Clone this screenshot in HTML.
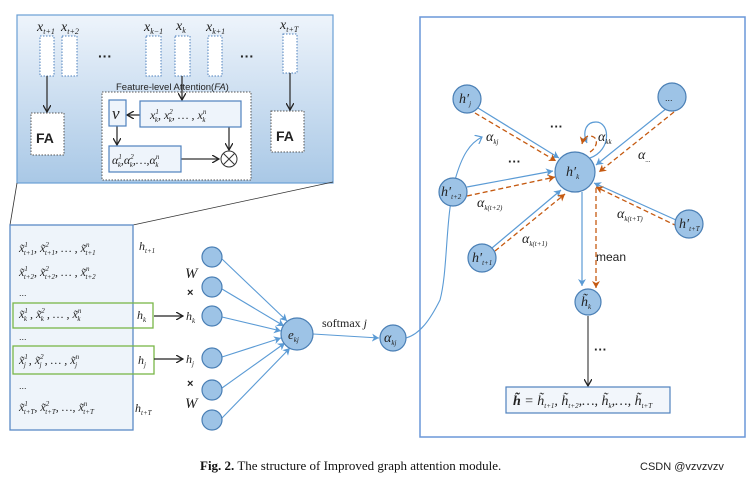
<!DOCTYPE html>
<html><head><meta charset="utf-8"><style>
html,body{margin:0;padding:0;background:#fff;width:754px;height:480px;overflow:hidden}
svg{display:block}
.m{font-family:"Liberation Serif",serif;font-style:italic;fill:#222}
.s{font-family:"Liberation Sans",sans-serif;fill:#222}
</style></head><body>
<svg width="754" height="480" viewBox="0 0 754 480" xmlns="http://www.w3.org/2000/svg">
<defs>
<linearGradient id="g" x1="0" y1="0" x2="0" y2="1">
<stop offset="0" stop-color="#eef4fb"/><stop offset="1" stop-color="#a9c8e6"/>
</linearGradient>
<marker id="ab" markerWidth="8" markerHeight="8" refX="7" refY="4" orient="auto" markerUnits="userSpaceOnUse"><path d="M0,0 L7,4 L0,8" fill="none" stroke="#222" stroke-width="1.3"/></marker>
<marker id="abl" markerWidth="8" markerHeight="8" refX="7" refY="4" orient="auto" markerUnits="userSpaceOnUse"><path d="M0,0 L7,4 L0,8 L2,4z" fill="#5b9bd5"/></marker>
<marker id="ao" markerWidth="8" markerHeight="8" refX="7" refY="4" orient="auto" markerUnits="userSpaceOnUse"><path d="M0,0 L7,4 L0,8 L2,4z" fill="#c55a11"/></marker>
<marker id="aopen" markerWidth="10" markerHeight="10" refX="6" refY="5" orient="auto" markerUnits="userSpaceOnUse"><path d="M0,0 L6,5 L0,10" fill="none" stroke="#5b9bd5" stroke-width="1.2"/></marker>
</defs>

<!-- top-left FA box -->
<rect x="17" y="15" width="316" height="168" fill="url(#g)" stroke="#6a9fd4" stroke-width="1.2"/>
<g fill="#fff" stroke="#4f81bd" stroke-dasharray="1.5,1.5" stroke-width="1">
<rect x="40" y="36" width="14" height="40"/><rect x="62" y="36" width="15" height="40"/>
<rect x="146" y="36" width="15" height="40"/><rect x="175" y="36" width="15" height="40"/>
<rect x="208" y="36" width="14" height="40"/><rect x="283" y="34" width="14" height="39"/>
<rect x="31" y="113" width="33" height="42" stroke="#555"/><rect x="271" y="111" width="33" height="41" stroke="#555"/>
<rect x="102" y="92" width="149" height="88" stroke="#555"/>
</g>
<g class="m" font-size="14">
<text x="37" y="31">x<tspan font-size="8" dy="3">t+1</tspan></text>
<text x="61" y="31">x<tspan font-size="8" dy="3">t+2</tspan></text>
<text x="144" y="31">x<tspan font-size="8" dy="3">k−1</tspan></text>
<text x="176" y="30">x<tspan font-size="8" dy="3">k</tspan></text>
<text x="206" y="31">x<tspan font-size="8" dy="3">k+1</tspan></text>
<text x="280" y="29">x<tspan font-size="8" dy="3">t+T</tspan></text>
</g>
<text x="98" y="61" class="s" font-size="14" font-weight="bold">···</text>
<text x="240" y="61" class="s" font-size="14" font-weight="bold">···</text>
<text x="36" y="143" class="s" font-size="14" font-weight="bold">FA</text>
<text x="276" y="141" class="s" font-size="14" font-weight="bold">FA</text>
<text x="116" y="90" class="s" font-size="9.5">Feature-level  Attention(<tspan font-style="italic">FA</tspan>)</text>
<g stroke="#333" stroke-width="1.3" fill="none">
<line x1="47" y1="76" x2="47" y2="112" marker-end="url(#ab)"/>
<line x1="290" y1="73" x2="290" y2="110" marker-end="url(#ab)"/>
<line x1="182" y1="76" x2="182" y2="100" marker-end="url(#ab)"/>
<line x1="140" y1="115" x2="127" y2="115" marker-end="url(#ab)"/>
<line x1="117" y1="126" x2="117" y2="145" marker-end="url(#ab)"/>
<line x1="229" y1="127" x2="229" y2="150" marker-end="url(#ab)"/>
<line x1="181" y1="159" x2="219" y2="159" marker-end="url(#ab)"/>
</g>
<rect x="140" y="101" width="101" height="26" fill="#eef4fb" stroke="#4f81bd" stroke-width="1.2"/>
<rect x="109" y="100" width="17" height="26" fill="#eef4fb" stroke="#4f81bd" stroke-width="1.2"/>
<rect x="109" y="146" width="72" height="26" fill="#eef4fb" stroke="#4f81bd" stroke-width="1.2"/>
<text x="112" y="119" class="m" font-size="17">v</text>
<text x="150" y="119" class="m" font-size="12">x<tspan font-size="7" dy="-5">1</tspan><tspan font-size="7" dx="-4" dy="8">k</tspan><tspan dy="-3">, x</tspan><tspan font-size="7" dy="-5">2</tspan><tspan font-size="7" dx="-4" dy="8">k</tspan><tspan dy="-3">, … , x</tspan><tspan font-size="7" dy="-5">n</tspan><tspan font-size="7" dx="-4" dy="8">k</tspan></text>
<text x="112" y="164" class="m" font-size="12">α<tspan font-size="7" dy="-5">1</tspan><tspan font-size="7" dx="-4" dy="8">k</tspan><tspan dy="-3">,α</tspan><tspan font-size="7" dy="-5">2</tspan><tspan font-size="7" dx="-4" dy="8">k</tspan><tspan dy="-3">,…,α</tspan><tspan font-size="7" dy="-5">n</tspan><tspan font-size="7" dx="-4" dy="8">k</tspan></text>
<circle cx="229" cy="159" r="8" fill="#fff" stroke="#333"/>
<path d="M223.5,153.5 L234.5,164.5 M234.5,153.5 L223.5,164.5" stroke="#333"/>

<!-- zoom lines -->
<line x1="17" y1="183" x2="10" y2="225" stroke="#333" stroke-width="0.8"/>
<line x1="333" y1="182" x2="133" y2="225" stroke="#333" stroke-width="0.8"/>

<!-- table -->
<rect x="10" y="225" width="123" height="205" fill="#eef4fa" stroke="#5a8ac6" stroke-width="1.3"/>
<rect x="13" y="303" width="140" height="25" fill="none" stroke="#7ab648" stroke-width="1.3"/>
<rect x="13" y="346" width="141" height="28" fill="none" stroke="#7ab648" stroke-width="1.3"/>
<g class="m" font-size="12">
<text x="19" y="252">x̃<tspan font-size="7" dy="-5">1</tspan><tspan font-size="7" dx="-4" dy="8">t+1</tspan><tspan dy="-3">, x̃</tspan><tspan font-size="7" dy="-5">2</tspan><tspan font-size="7" dx="-4" dy="8">t+1</tspan><tspan dy="-3">, … , x̃</tspan><tspan font-size="7" dy="-5">n</tspan><tspan font-size="7" dx="-4" dy="8">t+1</tspan></text>
<text x="19" y="276">x̃<tspan font-size="7" dy="-5">1</tspan><tspan font-size="7" dx="-4" dy="8">t+2</tspan><tspan dy="-3">, x̃</tspan><tspan font-size="7" dy="-5">2</tspan><tspan font-size="7" dx="-4" dy="8">t+2</tspan><tspan dy="-3">, … , x̃</tspan><tspan font-size="7" dy="-5">n</tspan><tspan font-size="7" dx="-4" dy="8">t+2</tspan></text>
<text x="19" y="318">x̃<tspan font-size="7" dy="-5">1</tspan><tspan font-size="7" dx="-4" dy="8">k</tspan><tspan dy="-3">  , x̃</tspan><tspan font-size="7" dy="-5">2</tspan><tspan font-size="7" dx="-4" dy="8">k</tspan><tspan dy="-3">    , … , x̃</tspan><tspan font-size="7" dy="-5">n</tspan><tspan font-size="7" dx="-4" dy="8">k</tspan></text>
<text x="19" y="364">x̃<tspan font-size="7" dy="-5">1</tspan><tspan font-size="7" dx="-4" dy="8">j</tspan><tspan dy="-3">    , x̃</tspan><tspan font-size="7" dy="-5">2</tspan><tspan font-size="7" dx="-4" dy="8">j</tspan><tspan dy="-3">  , … , x̃</tspan><tspan font-size="7" dy="-5">n</tspan><tspan font-size="7" dx="-4" dy="8">j</tspan></text>
<text x="19" y="411">x̃<tspan font-size="7" dy="-5">1</tspan><tspan font-size="7" dx="-4" dy="8">t+T</tspan><tspan dy="-3">, x̃</tspan><tspan font-size="7" dy="-5">2</tspan><tspan font-size="7" dx="-4" dy="8">t+T</tspan><tspan dy="-3">, …, x̃</tspan><tspan font-size="7" dy="-5">n</tspan><tspan font-size="7" dx="-4" dy="8">t+T</tspan></text>
<text x="139" y="250">h<tspan font-size="7" dy="3">t+1</tspan></text>
<text x="137" y="319">h<tspan font-size="7" dy="3">k</tspan></text>
<text x="138" y="364">h<tspan font-size="7" dy="3">j</tspan></text>
<text x="135" y="412">h<tspan font-size="7" dy="3">t+T</tspan></text>
<text x="186" y="320">h<tspan font-size="7" dy="3">k</tspan></text>
<text x="186" y="363">h<tspan font-size="7" dy="3">j</tspan></text>
</g>
<g class="s" font-size="9" fill="#555"><text x="19" y="296">...</text><text x="19" y="340">...</text><text x="19" y="389">...</text></g>
<line x1="154" y1="316" x2="183" y2="316" stroke="#222" stroke-width="1.3" marker-end="url(#ab)"/>
<line x1="154" y1="359" x2="183" y2="359" stroke="#222" stroke-width="1.3" marker-end="url(#ab)"/>
<text x="185" y="278" class="m" font-size="15" fill="#444">W</text>
<text x="187" y="296" class="s" font-size="11" font-weight="bold">×</text>
<text x="187" y="387" class="s" font-size="11" font-weight="bold">×</text>
<text x="185" y="408" class="m" font-size="15" fill="#444">W</text>

<!-- right box -->
<rect x="420" y="17" width="325" height="420" fill="#fff" stroke="#6a97d8" stroke-width="1.5"/>

<!-- NN -->
<g stroke="#5b9bd5" stroke-width="1.1" fill="none">
<line x1="222" y1="259" x2="287" y2="321" marker-end="url(#abl)"/>
<line x1="222" y1="289" x2="284" y2="326" marker-end="url(#abl)"/>
<line x1="222" y1="317" x2="281" y2="331" marker-end="url(#abl)"/>
<line x1="222" y1="357" x2="281" y2="338" marker-end="url(#abl)"/>
<line x1="222" y1="388" x2="285" y2="343" marker-end="url(#abl)"/>
<line x1="222" y1="418" x2="290" y2="348" marker-end="url(#abl)"/>
<line x1="313" y1="334" x2="379" y2="338" marker-end="url(#abl)"/>
<path d="M406,338 C420,334 430,320 440,300 C448,270 445,220 455,180 C462,155 470,143 482,137" marker-end="url(#aopen)"/>
</g>
<g fill="#9dc3e6" stroke="#4a7fb5" stroke-width="1.2">
<circle cx="212" cy="257" r="10"/><circle cx="212" cy="287" r="10"/><circle cx="212" cy="316" r="10"/>
<circle cx="212" cy="358" r="10"/><circle cx="212" cy="390" r="10"/><circle cx="212" cy="420" r="10"/>
<circle cx="297" cy="334" r="16"/><circle cx="393" cy="338" r="13"/>
</g>
<text x="288" y="339" class="m" font-size="13">e<tspan font-size="7" dy="3">kj</tspan></text>
<text x="384" y="342" class="m" font-size="14">α<tspan font-size="7" dy="3">kj</tspan></text>
<text x="322" y="327" font-family="Liberation Serif,serif" font-size="12" fill="#222">softmax <tspan font-style="italic">j</tspan></text>

<g stroke="#5b9bd5" stroke-width="1.2" fill="none">
<line x1="478" y1="108" x2="559" y2="158" marker-end="url(#abl)"/>
<line x1="667" y1="108" x2="596" y2="165" marker-end="url(#abl)"/>
<line x1="467" y1="187" x2="553" y2="171" marker-end="url(#abl)"/>
<line x1="492" y1="248" x2="561" y2="190" marker-end="url(#abl)"/>
<line x1="676" y1="220" x2="594" y2="183" marker-end="url(#abl)"/>
<line x1="582" y1="192" x2="582" y2="286" marker-end="url(#abl)"/>
<path d="M590,158 C612,150 610,122 596,122 C586,122 582,132 587,143" marker-end="url(#abl)"/>
<line x1="588" y1="316" x2="588" y2="386" stroke="#444" marker-end="url(#ab)"/>
</g>
<g stroke="#c55a11" stroke-width="1.3" stroke-dasharray="5,3" fill="none">
<line x1="475" y1="113" x2="556" y2="161" marker-end="url(#ao)"/>
<line x1="674" y1="112" x2="599" y2="172" marker-end="url(#ao)"/>
<line x1="467" y1="196" x2="555" y2="177" marker-end="url(#ao)"/>
<line x1="495" y1="251" x2="565" y2="194" marker-end="url(#ao)"/>
<line x1="677" y1="226" x2="596" y2="187" marker-end="url(#ao)"/>
<line x1="596" y1="188" x2="596" y2="288" marker-end="url(#ao)"/>
<path d="M590,152 C597,148 600,137 590,136 C585,136 583,140 582,144" marker-end="url(#ao)"/>
</g>
<g fill="#9dc3e6" stroke="#4a7fb5" stroke-width="1.2">
<circle cx="467" cy="99" r="14"/><circle cx="672" cy="97" r="14"/>
<circle cx="575" cy="172" r="20"/><circle cx="453" cy="192" r="14"/>
<circle cx="482" cy="258" r="14"/><circle cx="689" cy="224" r="14"/>
<circle cx="588" cy="302" r="13"/>
</g>
<g class="m" font-size="14">
<text x="459" y="103">h′<tspan font-size="7" dy="3">j</tspan></text>
<text x="566" y="176">h′<tspan font-size="7" dy="3">k</tspan></text>
<text x="441" y="196">h′<tspan font-size="7" dy="3">t+2</tspan></text>
<text x="472" y="262">h′<tspan font-size="7" dy="3">t+1</tspan></text>
<text x="679" y="228">h′<tspan font-size="7" dy="3">t+T</tspan></text>
<text x="581" y="306">h̃<tspan font-size="7" dy="3">k</tspan></text>
<text x="486" y="141">α<tspan font-size="7" dy="3">kj</tspan></text>
<text x="598" y="141">α<tspan font-size="7" dy="3">kk</tspan></text>
<text x="638" y="159">α<tspan font-size="7" dy="3">...</tspan></text>
<text x="477" y="207">α<tspan font-size="7" dy="3">k(t+2)</tspan></text>
<text x="522" y="243">α<tspan font-size="7" dy="3">k(t+1)</tspan></text>
<text x="617" y="218">α<tspan font-size="7" dy="3">k(t+T)</tspan></text>
</g>
<text x="665" y="101" class="s" font-size="9">...</text>
<g class="s" font-size="13" font-weight="bold"><text x="550" y="131">···</text><text x="508" y="166">···</text><text x="594" y="354">···</text></g>
<text x="596" y="261" class="s" font-size="12">mean</text>
<rect x="506" y="387" width="164" height="26" fill="#f2f6fb" stroke="#4f81bd" stroke-width="1.2"/>
<text x="513" y="405" class="m" font-size="14"><tspan font-weight="bold">h̃</tspan> = h̃<tspan font-size="7" dy="3">t+1</tspan><tspan dy="-3">, h̃</tspan><tspan font-size="7" dy="3">t+2</tspan><tspan dy="-3">,…, h̃</tspan><tspan font-size="7" dy="3">k</tspan><tspan dy="-3">,…, h̃</tspan><tspan font-size="7" dy="3">t+T</tspan></text>

<!-- caption -->
<text x="200" y="470" font-family="Liberation Serif,serif" font-size="13" fill="#111"><tspan font-weight="bold">Fig. 2.</tspan> The structure of Improved graph attention module.</text>
<text x="640" y="470" class="s" font-size="11" fill="#999">CSDN @vzvzvzv</text>
</svg>
</body></html>
